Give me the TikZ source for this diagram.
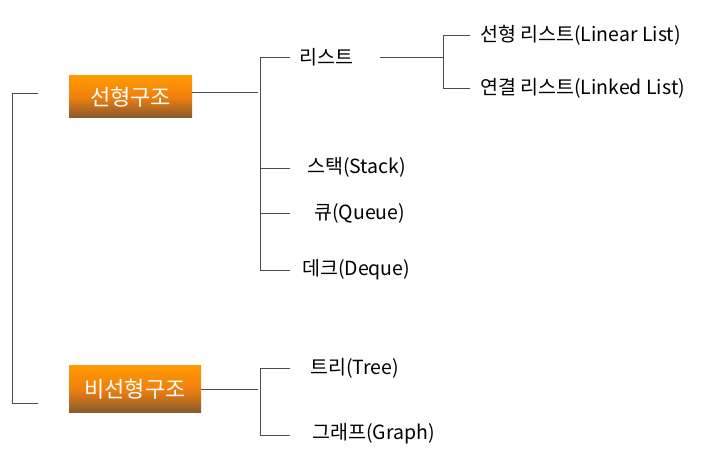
\documentclass[tikz,border=0pt]{standalone}
\usepackage{fontspec}
\setmainfont{Noto Sans CJK KR}
\begin{document}
\begin{tikzpicture}[x=1pt,y=-1pt,
  ln/.style={draw=black!70,line width=0.6pt},
  lbl/.style={font=\fontsize{19.5}{22}\selectfont,inner sep=0pt,anchor=west},
  hbox/.style={top color=orange!80!yellow,bottom color=brown!70!black,middle color=orange!75!brown,draw=none,font=\fontsize{22}{24}\selectfont,text=white,inner sep=0pt}]
\useasboundingbox (0,0) rectangle (724,470);
\node[hbox,minimum width=123pt,minimum height=42pt] (lin) at (130.5,97) {선형구조};
\node[hbox,minimum width=132pt,minimum height=47pt] (nlin) at (135,389.5) {비선형구조};
\coordinate (b1) at (38,93); \coordinate (b2) at (38,403);
\draw[ln] (b1) -- (12,93) -- (12,403) -- (b2);
\coordinate (v1) at (258,92);
\draw[ln] (lin.east |- v1) -- (v1);
\draw[ln] (260,57) -- (260,270);
\foreach \y in {57,168,213,270} \draw[ln] (260,\y) -- (290,\y);
\node[lbl] (list) at (299,57) {리스트};
\node[lbl] (stack) at (307,167) {스택(Stack)};
\node[lbl] (queue) at (314,213) {큐(Queue)};
\node[lbl] (deque) at (302,270) {데크(Deque)};
\coordinate (l2) at (443,57);
\draw[ln] (380,57) -- (l2);
\draw[ln] (443,35) -- (443,88);
\draw[ln] (443,35) -- (470,35);
\draw[ln] (443,88) -- (470,88);
\node[lbl] (ll) at (480,35) {선형 리스트(Linear List)};
\node[lbl] (lk) at (480,88) {연결 리스트(Linked List)};
\coordinate (v2) at (258,389);
\draw[ln] (nlin.east |- v2) -- (v2);
\draw[ln] (260,368) -- (260,435);
\draw[ln] (260,368) -- (290,368);
\draw[ln] (260,435) -- (290,435);
\node[lbl] (tree) at (310,368) {트리(Tree)};
\node[lbl] (graph) at (312,434) {그래프(Graph)};
\end{tikzpicture}
\end{document}
